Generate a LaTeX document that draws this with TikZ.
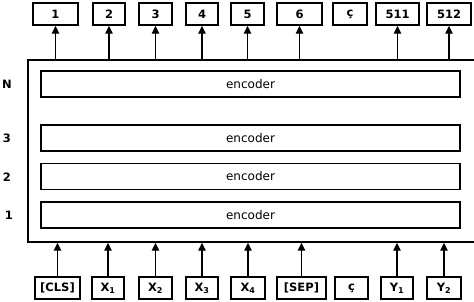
\documentclass[tikz,border=0pt]{standalone}
\usepackage{fontspec}
\setmainfont{DejaVu Sans}
\usetikzlibrary{arrows.meta}
\begin{document}
\begin{tikzpicture}[x=1pt,y=-1pt,
  tok/.style={draw,line width=1.4pt,minimum height=22pt,inner sep=0pt,font=\fontsize{11.5}{13}\selectfont\bfseries},
  enc/.style={draw,line width=1.4pt,minimum width=419pt,minimum height=26pt,inner sep=0pt,font=\fontsize{12}{14}\selectfont},
  lvl/.style={font=\fontsize{11.5}{13}\selectfont\bfseries,inner sep=0pt},
  arr/.style={line width=1.3pt,-{Triangle[width=7.5pt,length=8pt]}}]
\useasboundingbox (0,0) rectangle (474,301);
\node[draw,line width=1.4pt,minimum width=462pt,minimum height=182pt,inner sep=0pt] (outer) at (259,151) {};
% encoders
\node[enc] (eN) at (250.5,84) {encoder};
\node[enc] (e3) at (250.5,138) {encoder};
\node[enc] (e2) at (250.5,176.5) {encoder};
\node[enc] (e1) at (250.5,215) {encoder};
\node[lvl] (lN) at (7,84) {N};
\node[lvl] (l3) at (7,138) {3};
\node[lvl] (l2) at (7,177) {2};
\node[lvl] (l1) at (9,215) {1};
% top tokens
\node[tok,minimum width=45pt] (t1) at (55.5,14) {1};
\node[tok,minimum width=32pt] (t2) at (109,14) {2};
\node[tok,minimum width=33pt] (t3) at (155.5,14) {3};
\node[tok,minimum width=32pt] (t4) at (202,14) {4};
\node[tok,minimum width=33pt] (t5) at (247.5,14) {5};
\node[tok,minimum width=45pt] (t6) at (299.5,14) {6};
\node[tok,minimum width=34pt] (t7) at (350,14) {ç};
\node[tok,minimum width=43pt] (t8) at (397.5,14) {511};
\node[tok,minimum width=44pt] (t9) at (449,14) {512};
\foreach \n in {t1,t2,t3,t4,t5,t6,t8,t9}
  \draw[arr] (\n.south |- outer.north) -- (\n.south);
% bottom tokens
\node[tok,minimum width=45pt] (b1) at (57.5,288) {[CLS]};
\node[tok,minimum width=32pt] (b2) at (108,288) {X\textsubscript{1}};
\node[tok,minimum width=33pt] (b3) at (155.5,288) {X\textsubscript{2}};
\node[tok,minimum width=32pt] (b4) at (202,288) {X\textsubscript{3}};
\node[tok,minimum width=34pt] (b5) at (248,288) {X\textsubscript{4}};
\node[tok,minimum width=49pt] (b6) at (301.5,288) {[SEP]};
\node[tok,minimum width=33pt] (b7) at (351.5,288) {ç};
\node[tok,minimum width=32pt] (b8) at (397,288) {Y\textsubscript{1}};
\node[tok,minimum width=34pt] (b9) at (444,288) {Y\textsubscript{2}};
\foreach \n in {b1,b2,b3,b4,b5,b6,b8,b9}
  \draw[arr] (\n.north) -- (\n.north |- outer.south);
\end{tikzpicture}
\end{document}
